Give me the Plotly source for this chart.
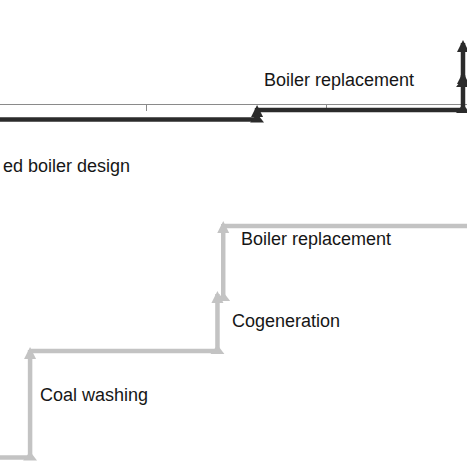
import plotly.graph_objects as go

# ---- data (x: cumulative abatement, y: cost) ----
tick_values = [10, 20]

# dark series (upper panel)
dark_level_x0 = [0.0, 16.17]
dark_level_x1 = [16.17, 27.61]
dark_level_y = [-7.75, -3.0]
dark_arrow_x = [16.17, 27.61, 27.61]
dark_arrow_from = [-7.75, -3.0, 10.0]
dark_arrow_to = [-0.5, 16.0, 32.0]
dark_labels = ["ed boiler design", "Boiler replacement"]
dark_label_x = [9.2, 16.45]
dark_label_y = [-30.85, 12.0]
dark_label_anchor = ["right", "left"]

# light series (lower panel)
grey_level_x0 = [0.0, 3.56, 14.29]
grey_level_x1 = [3.56, 13.97, 30.0]
grey_level_y = [-176.75, -123.5, -61.0]
grey_arrow_x = [3.56, 13.97, 14.29]
grey_arrow_from = [-176.75, -123.5, -97.0]
grey_arrow_to = [-121.5, -93.5, -58.5]
grey_labels = ["Coal washing", "Cogeneration", "Boiler replacement"]
grey_label_x = [4.02, 14.66, 15.19]
grey_label_y = [-145.7, -108.5, -67.35]

x_range = [1.889, 27.833]
y_range = [-181.5, 52.0]

DARK = "#2b2b2b"
GREY = "#c3c3c3"
W = 4.5

fig = go.Figure()


def add_series(lx0, lx1, ly, ax, afrom, ato, color):
    xs, ys = [], []
    for a, b, y in zip(lx0, lx1, ly):
        xs += [a, b, None]
        ys += [y, y, None]
    for x, y0, y1 in zip(ax, afrom, ato):
        xs += [x, x, None]
        ys += [y0, y1 - 1.5, None]
    fig.add_trace(go.Scatter(x=xs, y=ys, mode="lines",
                             line=dict(color=color, width=W),
                             hoverinfo="skip", showlegend=False, cliponaxis=False))
    fig.add_trace(go.Scatter(x=ax, y=ato, mode="markers",
                             marker=dict(symbol="arrow-up", size=12, color=color,
                                         line=dict(width=0)),
                             hoverinfo="skip", showlegend=False, cliponaxis=False))
    fig.add_trace(go.Scatter(x=ax, y=afrom, mode="markers",
                             marker=dict(symbol="triangle-up", size=12, color=color,
                                         line=dict(width=0)),
                             hoverinfo="skip", showlegend=False, cliponaxis=False))


add_series(dark_level_x0, dark_level_x1, dark_level_y,
           dark_arrow_x, dark_arrow_from, dark_arrow_to, DARK)
add_series(grey_level_x0, grey_level_x1, grey_level_y,
           grey_arrow_x, grey_arrow_from, grey_arrow_to, GREY)

font = dict(family="Liberation Sans, Arial, sans-serif", size=18, color="#161616")
for t, x, y, anc in zip(dark_labels, dark_label_x, dark_label_y, dark_label_anchor):
    fig.add_annotation(x=x, y=y, text=t, showarrow=False, xanchor=anc,
                       yanchor="middle", font=font)
for t, x, y in zip(grey_labels, grey_label_x, grey_label_y):
    fig.add_annotation(x=x, y=y, text=t, showarrow=False, xanchor="left",
                       yanchor="middle", font=font)

zero_pos = (0 - y_range[0]) / (y_range[1] - y_range[0])

fig.update_layout(
    width=467, height=467, autosize=False,
    margin=dict(l=0, r=0, t=0, b=0),
    paper_bgcolor="white", plot_bgcolor="white",
    xaxis=dict(range=x_range, anchor="free", position=zero_pos,
               showline=True, linecolor="#8a8a8a", linewidth=1,
               ticks="outside", ticklen=6, tickwidth=1, tickcolor="#8a8a8a",
               tickvals=tick_values, showticklabels=False,
               showgrid=False, zeroline=False, layer="below traces", fixedrange=True),
    yaxis=dict(range=y_range, visible=False, showgrid=False, zeroline=False,
               fixedrange=True),
)

fig.write_html("out.html", config={"displayModeBar": False},
               post_script="document.body.style.margin='0';document.body.style.overflow='hidden';")
